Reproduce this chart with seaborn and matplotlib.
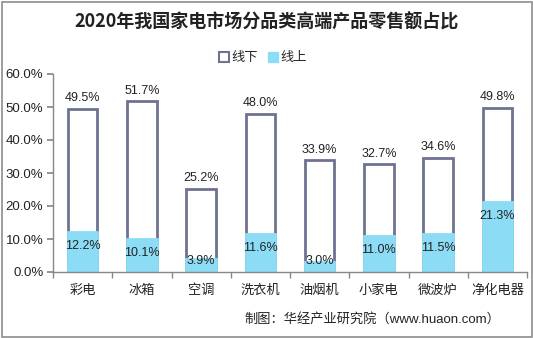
import matplotlib
matplotlib.use("Agg")
import matplotlib.pyplot as plt
import seaborn as sns
import pandas as pd
import numpy as np
from matplotlib.patches import Rectangle, Patch

categories = ["彩电", "冰箱", "空调", "洗衣机", "油烟机", "小家电", "微波炉", "净化电器"]
offline = [49.5, 51.7, 25.2, 48.0, 33.9, 32.7, 34.6, 49.8]
online = [12.2, 10.1, 3.9, 11.6, 3.0, 11.0, 11.5, 21.3]
series_names = ["线下", "线上"]
title = "2020年我国家电市场分品类高端产品零售额占比"
source = "制图：华经产业研究院（www.huaon.com）"

sns.set_theme(style="white")
plt.rcParams["font.family"] = ["Liberation Sans", "Noto Sans CJK SC", "DejaVu Sans"]

EDGE = "#6e7290"
CYAN = "#8ddcf5"
TXT = "#222222"

df = pd.DataFrame({"cat": categories, "off": offline, "on": online})

fig = plt.figure(figsize=(5.33, 3.38), dpi=100)
ax = fig.add_axes([53/533, 1-272/338, 474/533, (272-74)/338])

sns.barplot(data=df, x="cat", y="off", color="white", edgecolor=EDGE, linewidth=2,
            width=0.5, saturation=1, ax=ax)
sns.barplot(data=df, x="cat", y="on", color=CYAN, edgecolor=CYAN, linewidth=2,
            width=0.5, saturation=1, ax=ax)

ax.set_ylim(0, 60)
ax.set_xlim(-0.5, len(categories) - 0.5)
ax.set_xlabel("")
ax.set_ylabel("")
ax.set_yticks(np.arange(0, 61, 10))
ax.set_yticklabels([f"{v:.1f}%" for v in np.arange(0, 61, 10)], fontsize=9.5, color=TXT)
ax.set_xticks(range(len(categories)))
ax.set_xticklabels(categories, fontsize=9.5, color=TXT)
ax.set_xticks(np.arange(-0.5, len(categories), 1), minor=True)
ax.tick_params(axis="x", which="major", length=0, pad=9)
ax.tick_params(axis="x", which="minor", length=4, color="#888888", direction="out", bottom=True)
ax.tick_params(axis="y", length=4, color="#888888", direction="out", left=True, pad=3)
for s in ["top", "right"]:
    ax.spines[s].set_visible(False)
for s in ["left", "bottom"]:
    ax.spines[s].set_color("#888888")
    ax.spines[s].set_linewidth(1)
ax.grid(False)

for i, (o, n) in enumerate(zip(offline, online)):
    ax.text(i, o + 3.2, f"{o:.1f}%", ha="center", va="center", fontsize=9, color=TXT)
    ax.text(i, max(n - 4.3, 3.2), f"{n:.1f}%", ha="center", va="center", fontsize=9, color=TXT)

fig.text(0.5, 1-22/338, title, ha="center", va="center", fontsize=13, fontweight="bold",
         color="#222222", family=["Noto Sans CJK SC", "DejaVu Sans"])

handles = [Patch(facecolor="white", edgecolor=EDGE, linewidth=1.5),
           Patch(facecolor=CYAN, edgecolor=CYAN)]
fig.legend(handles, series_names, loc="center", bbox_to_anchor=(263/533, 1-58/338), ncol=2,
           frameon=False, fontsize=9.5, handlelength=0.7, handleheight=0.7,
           handletextpad=0.2, columnspacing=0.8, prop={"family": ["Noto Sans CJK SC"], "size": 9.5})

fig.text(500/533, 1-319/338, source, ha="right", va="center", fontsize=9.5, color=TXT)

fig.patches.append(Rectangle((1.5/533, 1.5/338), 530/533, 335/338, transform=fig.transFigure,
                             fill=False, edgecolor="#8c8c8c", linewidth=1.2))

fig.savefig("out.png", dpi=100)
